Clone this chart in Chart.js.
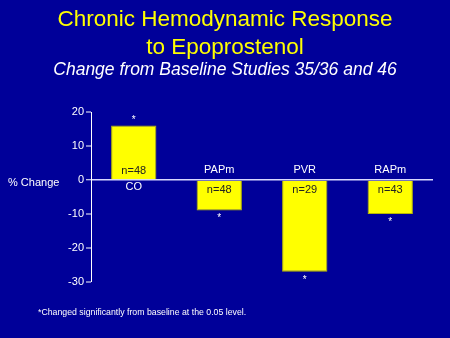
<!DOCTYPE html>
<html>
<head>
<meta charset="utf-8">
<script src="https://cdn.jsdelivr.net/npm/chart.js@4/dist/chart.umd.min.js"></script>
<style>
  html, body { margin: 0; padding: 0; background: #000099; }
  #wrap { width: 450px; height: 338px; }
</style>
</head>
<body>
<div id="wrap"><canvas id="hemoChart" width="450" height="338"></canvas></div>
<script>
// --- data ---
const categories = ['CO', 'PAPm', 'PVR', 'RAPm'];
const pctChange = [16, -9, -27, -10];
const sampleSizes = ['n=48', 'n=48', 'n=29', 'n=43'];
const significant = [true, true, true, true];
const yTicks = [20, 10, 0, -10, -20, -30];

const FONT = '"Liberation Sans", Arial, sans-serif';

// draws titles, axis caption, bar annotations and footnote
const slideText = {
    id: 'slideText',
    afterDatasetsDraw(chart) {
        const ctx = chart.ctx;
        const meta = chart.getDatasetMeta(0);
        const yScale = chart.scales.y;
        const zeroY = yScale.getPixelForValue(0);
        ctx.save();
        ctx.textAlign = 'center';
        ctx.textBaseline = 'middle';

        ctx.fillStyle = '#ffff00';
        ctx.font = '22.5px ' + FONT;
        ctx.fillText('Chronic Hemodynamic Response', 225, 20);
        ctx.fillText('to Epoprostenol', 225, 48);
        ctx.fillStyle = '#ffffff';
        ctx.font = 'italic 17.5px ' + FONT;
        ctx.fillText('Change from Baseline Studies 35/36 and 46', 225, 70);

        ctx.font = '11px ' + FONT;
        ctx.textAlign = 'left';
        ctx.fillText('% Change', 8, 183);

        meta.data.forEach((bar, i) => {
            const v = pctChange[i];
            const x = bar.x;
            ctx.textAlign = 'center';
            ctx.font = '11px ' + FONT;
            if (v >= 0) {
                ctx.fillStyle = '#ffffff';
                ctx.fillText(categories[i], x, zeroY + 7);
                ctx.fillStyle = '#222222';
                ctx.fillText(sampleSizes[i], x, zeroY - 9);
            } else {
                ctx.fillStyle = '#ffffff';
                ctx.fillText(categories[i], x, zeroY - 10);
                ctx.fillStyle = '#222222';
                ctx.fillText(sampleSizes[i], x, zeroY + 10);
            }
            if (significant[i]) {
                ctx.fillStyle = '#ffffff';
                ctx.font = '10px ' + FONT;
                const sy = v >= 0 ? bar.y - 5 : bar.y + 8;
                ctx.fillText('*', x, sy);
            }
        });

        ctx.textAlign = 'left';
        ctx.fillStyle = '#ffffff';
        ctx.font = '8.75px ' + FONT;
        ctx.fillText('*Changed significantly from baseline at the 0.05 level.', 38, 313);
        ctx.restore();
    }
};

new Chart(document.getElementById('hemoChart'), {
    type: 'bar',
    data: {
        labels: categories,
        datasets: [{
            data: pctChange,
            backgroundColor: '#ffff00',
            borderColor: '#b8b800',
            borderWidth: 1,
            borderSkipped: 'start',
            categoryPercentage: 1,
            barPercentage: 0.53
        }]
    },
    options: {
        responsive: false,
        animation: false,
        layout: { padding: { left: 0, right: 17, top: 112, bottom: 56 } },
        plugins: {
            legend: { display: false },
            tooltip: { enabled: false },
            title: { display: false }
        },
        scales: {
            x: { display: false },
            y: {
                min: -30,
                max: 20,
                afterFit: (scale) => { scale.width = 91; },
                afterBuildTicks: (scale) => { scale.ticks = yTicks.map(v => ({ value: v })); },
                border: { display: true, color: '#ffffff', width: 1 },
                grid: {
                    drawOnChartArea: true,
                    color: (c) => c.tick && c.tick.value === 0 ? '#d8d8ff' : 'rgba(0,0,0,0)',
                    lineWidth: (c) => c.tick && c.tick.value === 0 ? 1.5 : 0,
                    tickColor: '#ffffff',
                    tickLength: 5,
                    tickWidth: 1
                },
                ticks: {
                    color: '#ffffff',
                    padding: 2,
                    font: { family: FONT, size: 11 }
                }
            }
        }
    },
    plugins: [slideText]
});
</script>
</body>
</html>
